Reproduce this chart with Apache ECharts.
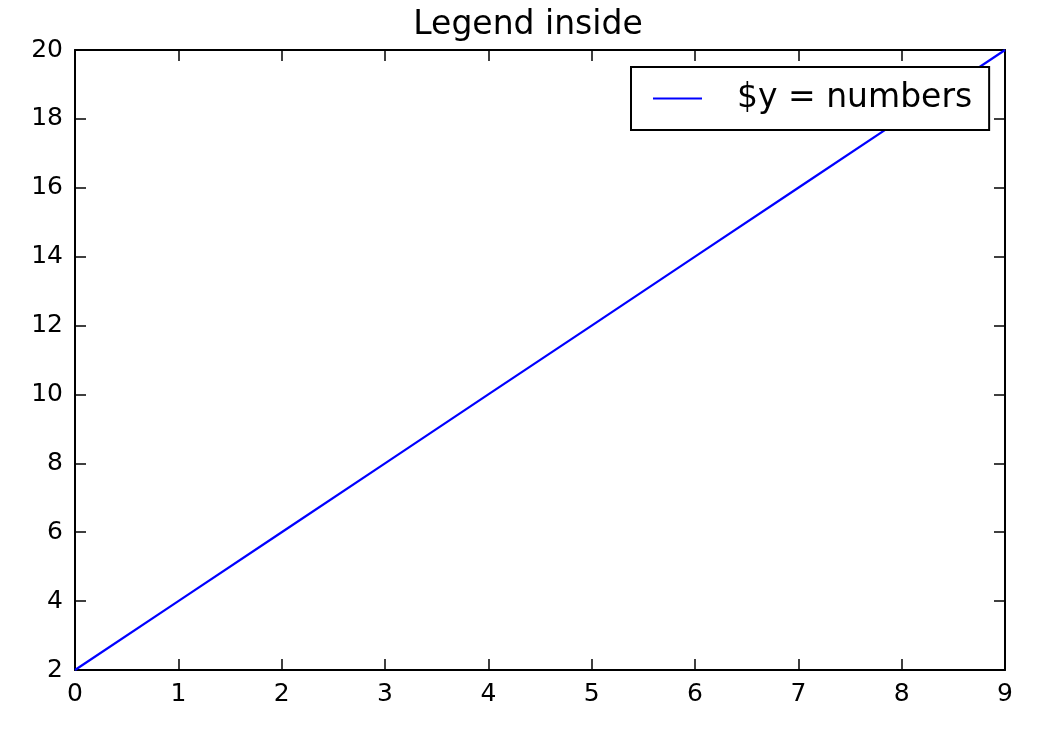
<!DOCTYPE html>
<html><head><meta charset="utf-8">
<script src="https://cdn.jsdelivr.net/npm/echarts@6/dist/echarts.min.js"></script>
<style>html,body{margin:0;padding:0;background:#fff}#c{width:1056px;height:738px}</style>
</head><body><div id="c"></div>
<script>
const xValues = [0,1,2,3,4,5,6,7,8,9];
const yValues = [2,4,6,8,10,12,14,16,18,20];
const seriesName = '$y = numbers';
const titleText = 'Legend inside';

const FONT = 'DejaVu Sans';
const chart = echarts.init(document.getElementById('c'));
const axisCommon = {
  axisLine: {show: true, onZero: false, lineStyle: {color: '#000', width: 2}},
  axisTick: {show: true, inside: true, length: 11, lineStyle: {color: '#000', width: 1.5}},
  splitLine: {show: false}
};
chart.setOption({
  animation: false,
  backgroundColor: '#fff',
  title: {text: titleText, left: 'center', top: 4, textStyle: {fontFamily: FONT, fontSize: 33, fontWeight: 'normal', color: '#000'}},
  grid: {left: 75, right: 51, top: 50, bottom: 68, containLabel: false},
  legend: {
    data: [seriesName], left: 631, top: 67, z: 10,
    backgroundColor: '#fff',
    borderColor: '#000', borderWidth: 2, borderRadius: 0,
    padding: [15, 17, 15, 22],
    icon: 'rect', itemWidth: 49, itemHeight: 2,
    formatter: '{a|{name}}',
    textStyle: {fontFamily: FONT, fontSize: 33, color: '#000', rich: {a: {fontFamily: FONT, fontSize: 33, color: '#000', padding: [0,0,0,30]}}}
  },
  xAxis: [
    Object.assign({type: 'value', min: 0, max: 9, interval: 1, position: 'bottom',
      axisLabel: {fontFamily: FONT, fontSize: 25, color: '#000', margin: 12}}, axisCommon),
    Object.assign({type: 'value', min: 0, max: 9, interval: 1, position: 'top',
      axisLabel: {show: false}}, axisCommon)
  ],
  yAxis: [
    Object.assign({type: 'value', min: 2, max: 20, interval: 2, position: 'left',
      axisLabel: {fontFamily: FONT, fontSize: 25, color: '#000', margin: 12}}, axisCommon),
    Object.assign({type: 'value', min: 2, max: 20, interval: 2, position: 'right',
      axisLabel: {show: false}}, axisCommon)
  ],
  series: [{
    name: seriesName, type: 'line', xAxisIndex: 0, yAxisIndex: 0,
    data: xValues.map((x, i) => [x, yValues[i]]),
    showSymbol: false, symbol: 'none',
    lineStyle: {color: '#0000ff', width: 2.2}, itemStyle: {color: '#0000ff'}
  }]
});
</script></body></html>
